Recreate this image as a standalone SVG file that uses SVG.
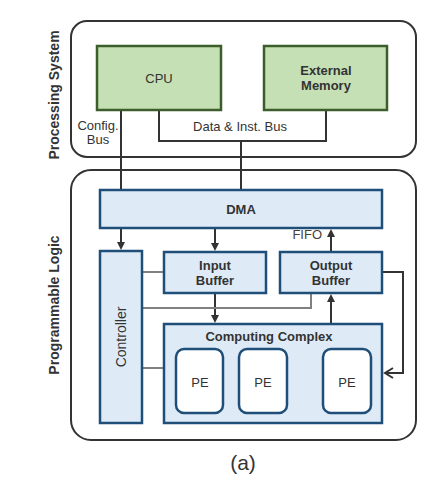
<svg xmlns="http://www.w3.org/2000/svg" width="429" height="477" viewBox="0 0 429 477">
<style>
text{font-family:"Liberation Sans",Arial,sans-serif;fill:#333;}
.b{font-weight:bold;}
.frame{fill:#fff;stroke:#333;stroke-width:2;}
.green{fill:#c5e0b4;stroke:#3b5e2b;stroke-width:2.5;}
.blue{fill:#deebf7;stroke:#1f4e79;stroke-width:2.5;}
.pe{fill:#fff;stroke:#1f4e79;stroke-width:2.5;}
.c{fill:none;stroke:#333;stroke-width:2;}
.g{fill:none;stroke:#808080;stroke-width:2;}
</style>
<defs>
<marker id="ah" markerUnits="userSpaceOnUse" markerWidth="9" markerHeight="9" refX="5" refY="4" orient="auto">
<path d="M0,0 L8,4 L0,8 z" fill="#333"/>
</marker>
</defs>
<rect width="429" height="477" fill="#fff"/>
<g id="processing-system">
<rect class="frame" x="71" y="21" width="345" height="136" rx="16"/>
<text class="b" font-size="14" text-anchor="middle" transform="translate(59,95) rotate(-90)">Processing System</text>
</g>
<g id="programmable-logic">
<rect class="frame" x="71" y="170" width="345" height="270" rx="20"/>
<text class="b" font-size="14" text-anchor="middle" transform="translate(59,305) rotate(-90)">Programmable Logic</text>
</g>
<g id="connectors">
<line class="c" x1="121" y1="110" x2="121" y2="190"/>
<path class="c" d="M159,110 V141 H326 V110"/>
<line class="c" x1="241" y1="141" x2="241" y2="190"/>
<line class="c" x1="121" y1="228" x2="121" y2="247" marker-end="url(#ah)"/>
<line class="c" x1="215" y1="228" x2="215" y2="248" marker-end="url(#ah)"/>
<line class="c" x1="331" y1="252" x2="331" y2="232" marker-end="url(#ah)"/>
<line class="c" x1="215" y1="293" x2="215" y2="320" marker-end="url(#ah)"/>
<line class="c" x1="331" y1="324" x2="331" y2="297" marker-end="url(#ah)"/>
<path class="c" d="M382,272 H403 V373 H385"/>
<path class="c" d="M393,368 L385,373 L393,378"/>
<line class="g" x1="142" y1="272" x2="164" y2="272"/>
<path class="g" d="M142,308 H311 V293"/>
<line class="g" x1="142" y1="368" x2="164" y2="368"/>
<text font-size="13" text-anchor="middle" x="98" y="130">Config.</text>
<text font-size="13" text-anchor="middle" x="98" y="144">Bus</text>
<text font-size="13" text-anchor="middle" x="240" y="131">Data &amp; Inst. Bus</text>
<text font-size="13" text-anchor="end" x="322" y="239" style="fill:#4a3f33">FIFO</text>
</g>
<g id="cpu">
<rect class="green" x="97" y="46" width="124" height="64"/>
<text font-size="13" text-anchor="middle" x="159" y="83">CPU</text>
</g>
<g id="external-memory">
<rect class="green" x="264" y="46" width="123" height="64"/>
<text class="b" font-size="13" text-anchor="middle" x="326" y="75">External</text>
<text class="b" font-size="13" text-anchor="middle" x="326" y="90">Memory</text>
</g>
<g id="dma">
<rect class="blue" x="100" y="190" width="282" height="38"/>
<text class="b" font-size="13" text-anchor="middle" x="241" y="214">DMA</text>
</g>
<g id="controller">
<rect class="blue" x="100" y="251" width="42" height="172"/>
<text font-size="14" text-anchor="middle" transform="translate(126,337) rotate(-90)">Controller</text>
</g>
<g id="input-buffer">
<rect class="blue" x="164" y="252" width="102" height="41"/>
<text class="b" font-size="13" text-anchor="middle" x="215" y="270">Input</text>
<text class="b" font-size="13" text-anchor="middle" x="215" y="285">Buffer</text>
</g>
<g id="output-buffer">
<rect class="blue" x="280" y="252" width="102" height="41"/>
<text class="b" font-size="13" text-anchor="middle" x="331" y="270">Output</text>
<text class="b" font-size="13" text-anchor="middle" x="331" y="285">Buffer</text>
</g>
<g id="computing-complex">
<rect class="blue" x="164" y="324" width="218" height="99"/>
<text class="b" font-size="13" text-anchor="middle" x="269" y="341">Computing Complex</text>
</g>
<g id="pe1">
<rect class="pe" x="176" y="349" width="47" height="64" rx="8"/>
<text font-size="13" text-anchor="middle" x="200" y="387">PE</text>
</g>
<g id="pe2">
<rect class="pe" x="239" y="349" width="48" height="64" rx="8"/>
<text font-size="13" text-anchor="middle" x="263" y="387">PE</text>
</g>
<g id="pe3">
<rect class="pe" x="323" y="349" width="48" height="64" rx="8"/>
<text font-size="13" text-anchor="middle" x="347" y="387">PE</text>
</g>
<text font-size="21" text-anchor="middle" x="243" y="470">(a)</text>
</svg>
